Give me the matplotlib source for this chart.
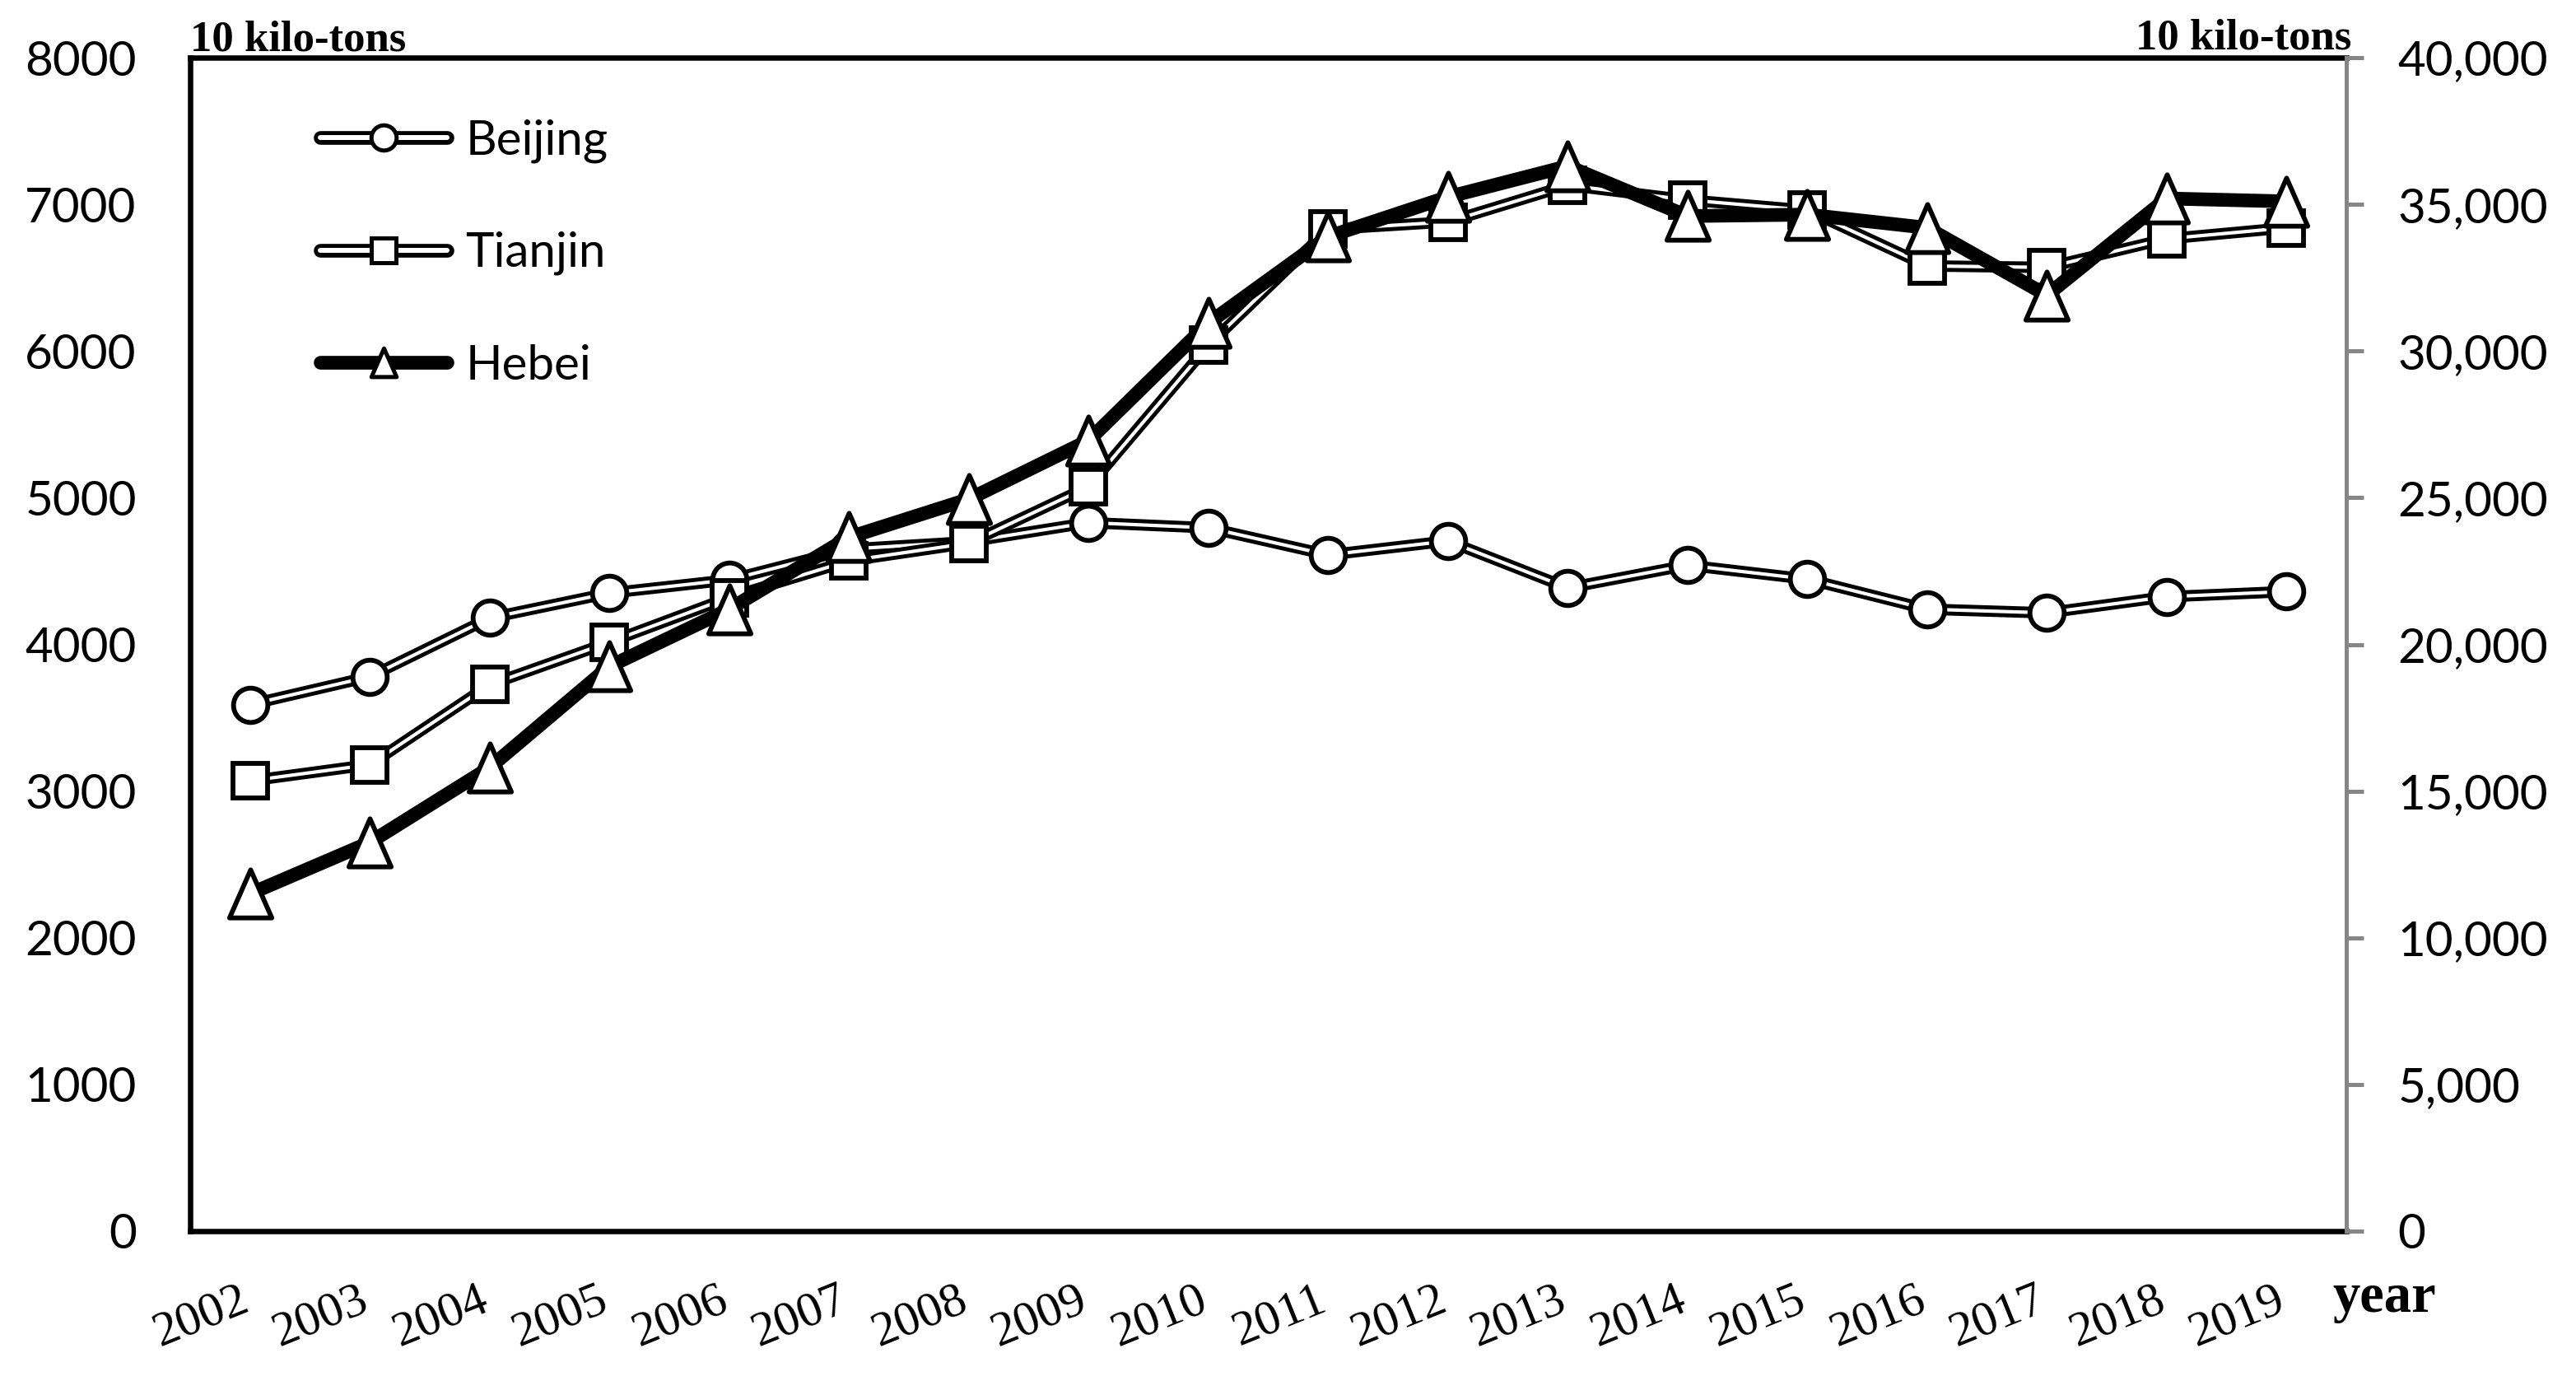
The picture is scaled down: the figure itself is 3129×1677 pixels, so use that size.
import matplotlib
matplotlib.use('Agg')
import matplotlib.pyplot as plt
from matplotlib.lines import Line2D
from matplotlib.legend_handler import HandlerTuple
from matplotlib.markers import MarkerStyle
from matplotlib.path import Path
from matplotlib.ticker import FuncFormatter
import matplotlib.transforms as mtransforms

# data (10 kilo-tons)
years = ['2002', '2003', '2004', '2005', '2006', '2007', '2008', '2009', '2010',
         '2011', '2012', '2013', '2014', '2015', '2016', '2017', '2018', '2019']
beijing = [3590, 3780, 4180, 4350, 4440, 4650, 4700, 4830, 4795,
           4610, 4705, 4385, 4540, 4445, 4240, 4215, 4325, 4360]
tianjin = [3070, 3180, 3725, 4015, 4320, 4570, 4690, 5075, 6040,
           6830, 6880, 7130, 7030, 6960, 6580, 6570, 6765, 6840]
# Hebei on the secondary axis
hebei = [11500, 13250, 15800, 19250, 21200, 23650, 24950, 26950, 30950,
         33900, 35250, 36300, 34600, 34650, 34200, 31900, 35200, 35100]

x = list(range(len(years)))

W, H = 3129, 1677
fig = plt.figure(figsize=(W / 100, H / 100), dpi=100)
ax = fig.add_axes([231 / W, 1 - 1495 / H, (2850 - 231) / W, (1495 - 70) / H])
ax2 = ax.twinx()

tick_font = 'Lato'
serif = 'Liberation Serif'

# slightly narrow triangle, like the Excel marker
tri = MarkerStyle(Path([(0, 1), (-0.88, -1), (0.88, -1), (0, 1)],
                       [Path.MOVETO, Path.LINETO, Path.LINETO, Path.CLOSEPOLY]),
                  joinstyle='miter')


def double_line(axis, xs, ys, marker, ms, z):
    axis.plot(xs, ys, color='black', lw=10, solid_joinstyle='round',
              solid_capstyle='round', zorder=z)
    axis.plot(xs, ys, color='white', lw=3, solid_joinstyle='round',
              solid_capstyle='round', zorder=z + 0.1)
    axis.plot(xs, ys, ls='none', marker=marker, ms=ms, mfc='white',
              mec='black', mew=4.2, zorder=z + 0.2)


double_line(ax, x, beijing, 'o', 30, 3)
double_line(ax, x, tianjin, 's', 30.5, 4)

ax2.plot(x, hebei, color='black', lw=12, solid_joinstyle='round',
         solid_capstyle='round', zorder=3)
ax2.plot(x, hebei, ls='none', marker=tri, ms=42, mfc='white', mec='black',
         mew=4.2, zorder=4)

ax.set_xlim(-0.5, len(years) - 0.5)
ax.set_ylim(0, 8000)
ax2.set_ylim(0, 40000)
ax.set_yticks(range(0, 8001, 1000))
ax2.set_yticks(range(0, 40001, 5000))
ax2.yaxis.set_major_formatter(FuncFormatter(lambda v, p: f'{int(v):,}'))
ax.set_xticks([])

ax.tick_params(axis='y', length=0, pad=47, labelsize=42)
ax2.tick_params(axis='y', length=15, width=3.6, color='#868686', pad=30,
                labelsize=42, direction='out')
for lab in ax.get_yticklabels() + ax2.get_yticklabels():
    lab.set_fontfamily(tick_font)

for s in ['left', 'bottom', 'top']:
    ax.spines[s].set_linewidth(4.7)
    ax.spines[s].set_color('black')
ax.spines['right'].set_visible(False)
for s in ['left', 'bottom', 'top']:
    ax2.spines[s].set_visible(False)
ax2.spines['right'].set_color('#868686')
ax2.spines['right'].set_linewidth(3.6)

# rotated year labels under the axis
trans = mtransforms.blended_transform_factory(ax.transData, fig.transFigure)
for i, yr in enumerate(years):
    ax.text(i + 0.04, 1 - 1552 / H, yr, transform=trans, rotation=22,
            ha='right', va='top', fontsize=43, family=serif)

fig.text(2833 / W, 1 - 1593 / H, 'year', ha='left', va='baseline',
         fontsize=48, fontweight='bold', family=serif)
fig.text(231 / W, 1 - 62 / H, '10 kilo-tons', ha='left', va='baseline',
         fontsize=38, fontweight='bold', family=serif)
fig.text(2856 / W, 1 - 59 / H, '10 kilo-tons', ha='right', va='baseline',
         fontsize=38, fontweight='bold', family=serif)


def leg_handle(marker, ms, double=True):
    parts = [Line2D([], [], color='black', lw=12, solid_capstyle='round')]
    if double:
        parts.append(Line2D([], [], color='white', lw=4.3, solid_capstyle='round'))
    parts.append(Line2D([], [], ls='none', marker=marker, ms=ms, mfc='white',
                        mec='black', mew=3.6))
    return tuple(parts)


handles = [leg_handle('o', 22), leg_handle('s', 22), leg_handle(tri, 25, False)]
leg = ax2.legend(handles, ['Beijing', 'Tianjin', 'Hebei'],
                 handler_map={tuple: HandlerTuple(ndivide=1, pad=0)},
                 loc='upper left', bbox_to_anchor=(389 / W, 1 - 144 / H),
                 bbox_transform=fig.transFigure, frameon=False,
                 borderpad=0, borderaxespad=0, handlelength=2.64,
                 handletextpad=0.38, labelspacing=1.43,
                 prop={'family': tick_font, 'size': 42})

fig.savefig('out.png', dpi=100, facecolor='white')
